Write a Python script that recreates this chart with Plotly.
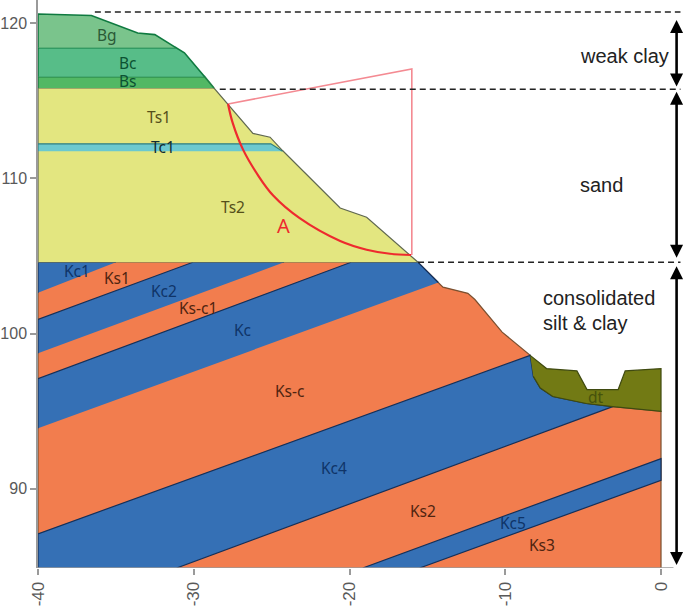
import plotly.graph_objects as go

x_ticks = [-40, -30, -20, -10, 0]
x_tick_labels = ["-40", "-30", "-20", "-10", "0"]
y_ticks = [90, 100, 110, 120]
y_tick_labels = ["90", "100", "110", "120"]

bg_x = [-40, -40, -36.57, -35.4, -33.6, -32.5, -31.15]
bg_y = [118.43, 120.6, 120.5, 120.04, 119.37, 119.27, 118.43]
bc_x = [-40, -40, -31.15, -30.6, -29.3]
bc_y = [116.56, 118.43, 118.43, 118.1, 116.56]
bs_x = [-40, -40, -29.3, -28.7]
bs_y = [115.83, 116.56, 116.56, 115.83]
ts_x = [-40, -40, -28.7, -27.8, -26.2, -25.1, -24.3, -20.6, -18.9, -15.6]
ts_y = [104.6, 115.83, 115.83, 114.8, 112.9, 112.66, 111.8, 108.1, 107.5, 104.6]
tc_x = [-40, -40, -25.05, -24.3]
tc_y = [111.76, 112.23, 112.23, 111.76]
orange_x = [-40, -40, -15.6, -14.3, -14.0, -12.4, -11.95, -10.2, -8.4, -8.2, -7.75, -6.95, -4.8, -3.1, 0, 0]
orange_y = [84.9, 104.6, 104.6, 103.3, 103.0, 102.6, 102.2, 100.1, 98.6, 97.25, 96.5, 95.95, 95.5, 95.3, 95.0, 84.9]
kc1_x = [-40, -40, -35.0]
kc1_y = [102.64, 104.6, 104.6]
kc2_x = [-40, -40, -30.06, -24.2]
kc2_y = [98.73, 100.92, 104.6, 104.6]
kc_x = [-40, -40, -19.9, -15.6, -14.3]
kc_y = [93.9, 97.1, 104.6, 104.6, 103.3]
kc4_x = [-40, -40, -8.4, -8.2, -7.75, -6.95, -4.8, -3.1, -31.1]
kc4_y = [84.9, 87.1, 98.6, 97.25, 96.5, 95.95, 95.5, 95.3, 84.9]
kc5_x = [-19.15, 0, 0, -15.5]
kc5_y = [84.9, 91.95, 90.55, 84.9]
dt_x = [-8.4, -7.35, -5.4, -4.75, -2.75, -2.3, 0, 0, -3.1, -4.8, -6.95, -7.75, -8.2]
dt_y = [98.6, 97.75, 97.6, 96.4, 96.4, 97.6, 97.75, 95.0, 95.3, 95.5, 95.95, 96.5, 97.25]

slip_x = [-27.8, -27.5, -26.85, -25.87, -24.9, -23.2, -20.6, -18.9, -17.4, -16.05]
slip_y = [114.8, 113.58, 111.89, 110.2, 108.9, 107.44, 105.97, 105.41, 105.15, 105.07]
block_x = [-27.8, -16.0, -16.0]
block_y = [114.8, 117.05, 105.07]

dash_starts = [-36.35, -28.33, -15.6]
dash_levels = [120.73, 115.75, 104.6]
dash_end = 1.25

arrow_x = 1.0
arrow_tops = [120.21, 115.58, 104.35]
arrow_bottoms = [115.83, 104.8, 85.0]

layer_names = ["Bg", "Bc", "Bs", "Ts1", "Tc1", "Ts2", "Kc1", "Ks1", "Kc2", "Ks-c1", "Kc", "Ks-c", "Kc4", "Ks2", "Kc5", "Ks3", "dt"]
layer_x = [-35.59, -34.24, -34.24, -32.25, -32.0, -27.5, -37.51, -34.95, -31.93, -29.74, -26.85, -23.83, -21.01, -15.29, -9.51, -7.65, -4.18]
layer_y = [119.27, 117.47, 116.31, 113.99, 112.0, 108.13, 104.01, 103.56, 102.72, 101.63, 100.21, 96.28, 91.33, 88.56, 87.8, 86.37, 95.9]
layer_ink = ["#2a5a36", "#0c5232", "#0c5232", "#544f1a", "#102c32", "#544f1a", "#0f3468", "#4f2410", "#0f3468", "#4f2410", "#0f3468", "#4f2410", "#0f3468", "#4f2410", "#0f3468", "#4f2410", "#46520c"]

zone_names = ["weak clay", "sand", "consolidated", "silt &amp; clay"]
zone_x = [-5.33, -5.33, -7.7, -7.7]
zone_y = [117.86, 109.6, 102.3, 100.7]

GREY = "#9a9a9a"
fig = go.Figure()


def poly(xs, ys, fill, edge, width=1.2):
    fig.add_trace(go.Scatter(x=xs, y=ys, mode="lines", fill="toself", fillcolor=fill,
                             line=dict(color=edge, width=width), hoverinfo="skip", showlegend=False))


poly(orange_x, orange_y, "#F27D4E", "#7a5030")
poly(kc1_x, kc1_y, "#3570B5", "#14305a")
poly(kc2_x, kc2_y, "#3570B5", "#14305a")
poly(kc_x, kc_y, "#3570B5", "#14305a")
poly(kc4_x, kc4_y, "#3570B5", "#14305a")
poly(kc5_x, kc5_y, "#3570B5", "#14305a")
poly(dt_x, dt_y, "#727A14", "#3f4a10")
poly(ts_x, ts_y, "#E3E680", "#606850")
poly(tc_x, tc_y, "#6CC9CF", "#2f7f80")
poly(bs_x, bs_y, "#52B864", "#1f7f45", 1.6)
poly(bc_x, bc_y, "#57BD88", "#0f7a40", 1.6)
poly(bg_x, bg_y, "#7AC48C", "#0f7a40", 1.6)

fig.add_trace(go.Scatter(x=block_x, y=block_y, mode="lines", line=dict(color="#F48A92", width=1.6),
                         hoverinfo="skip", showlegend=False))
fig.add_trace(go.Scatter(x=slip_x, y=slip_y, mode="lines", line=dict(color="#EE2A2E", width=2.2, shape="spline"),
                         hoverinfo="skip", showlegend=False))

for start, level in zip(dash_starts, dash_levels):
    fig.add_trace(go.Scatter(x=[start, dash_end], y=[level, level], mode="lines",
                             line=dict(color="#222222", width=1.6, dash="6px,4px"),
                             hoverinfo="skip", showlegend=False))

fig.add_trace(go.Scatter(x=[-40, 0.8], y=[84.9, 84.9], mode="lines", line=dict(color=GREY, width=1.5),
                         hoverinfo="skip", showlegend=False))

annotations = []
for top, bottom in zip(arrow_tops, arrow_bottoms):
    annotations.append(dict(x=arrow_x, y=top, ax=arrow_x, ay=bottom, xref="x", yref="y", axref="x", ayref="y",
                            text="", showarrow=True, arrowhead=2, arrowside="end+start", arrowsize=1,
                            arrowwidth=2.6, arrowcolor="#000000"))
for name, x, y, ink in zip(layer_names, layer_x, layer_y, layer_ink):
    annotations.append(dict(x=x, y=y, text=name, showarrow=False, xref="x", yref="y",
                            font=dict(family="Noto Sans", size=15.5, color=ink)))
annotations.append(dict(x=-24.22, y=106.97, text="A", showarrow=False, xref="x", yref="y",
                        font=dict(family="Noto Sans", size=20, color="#EE2A2E")))
for name, x, y in zip(zone_names, zone_x, zone_y):
    annotations.append(dict(x=x, y=y, text=name, showarrow=False, xref="x", yref="y", xanchor="left",
                            font=dict(family="Liberation Sans", size=20, color="#222222")))

fig.update_layout(
    width=685, height=608, autosize=False,
    margin=dict(l=38.3, r=0, t=0, b=39.7, pad=0, autoexpand=False),
    paper_bgcolor="#ffffff", plot_bgcolor="#ffffff",
    showlegend=False, annotations=annotations,
    xaxis=dict(range=[-40, 1.54], tickmode="array", tickvals=x_ticks, ticktext=x_tick_labels,
               automargin=False, tickangle=-90, ticks="outside", ticklen=6, tickcolor=GREY, tickwidth=1.5,
               showgrid=False, zeroline=False, showline=False,
               tickfont=dict(family="Liberation Sans", size=17, color="#595959")),
    yaxis=dict(range=[84.9, 121.5], tickmode="array", tickvals=y_ticks, ticktext=y_tick_labels,
               automargin=False, ticks="outside", ticklen=6, tickcolor=GREY, tickwidth=1.5,
               showgrid=False, zeroline=False, showline=True, linecolor=GREY, linewidth=1.5,
               tickfont=dict(family="Liberation Sans", size=16, color="#595959")),
)

fig.write_html("out.html", config=dict(displayModeBar=False),
               post_script="document.body.style.margin='0';document.body.style.overflow='hidden';")
